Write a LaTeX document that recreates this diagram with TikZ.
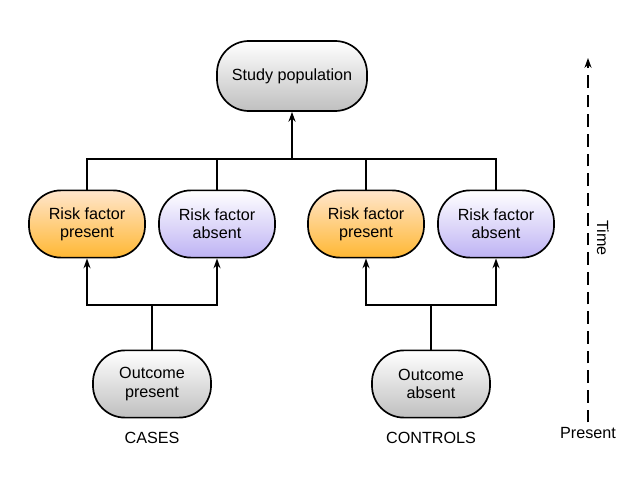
\documentclass[tikz,border=0pt]{standalone}
\usepackage{fontspec}
\setmainfont{Liberation Sans}
\usetikzlibrary{positioning,arrows.meta}
\begin{document}
\begin{tikzpicture}[
        x=0.025cm, y=-0.025cm,
        box/.style={
            rectangle,
            draw,
            line width=1.2pt,
            align=center,
            rounded corners=0.8cm,
            font=\fontsize{11.5}{13}\selectfont,
            inner sep=2pt
        },
        gray box/.style={box, top color=white, bottom color=black!25,
            minimum width=2.95cm, minimum height=1.68cm},
        orange box/.style={box, top color=orange!20, bottom color=orange!70!yellow!80,
            minimum width=2.9cm, minimum height=1.68cm},
        purple box/.style={box, top color=white, bottom color=violet!30!blue!30,
            minimum width=2.9cm, minimum height=1.68cm},
        line/.style={line width=1.6pt},
        arrow/.style={line, -{Stealth[length=7pt,width=5pt]}}
    ]
    \useasboundingbox (0,0) rectangle (638,478);

    % Study population
    \node[gray box, minimum width=3.75cm, minimum height=1.75cm] (study) at (292,76) {Study population};

    % Risk factor row
    \node[orange box] (rfp1) at (87,224) {Risk factor\\present};
    \node[purple box] (rfa1) at (217,224) {Risk factor\\absent};
    \node[orange box] (rfp2) at (366,224) {Risk factor\\present};
    \node[purple box] (rfa2) at (496,224) {Risk factor\\absent};

    % Outcome row
    \node[gray box] (outp) at (152,384) {Outcome\\present};
    \node[gray box] (outa) at (431,384) {Outcome\\absent};
    \node[font=\fontsize{11.5}{13}\selectfont] (cases) at (152,438) {CASES};
    \node[font=\fontsize{11.5}{13}\selectfont] (controls) at (431,438) {CONTROLS};

    % Connections to study population
    \coordinate (bar) at (292,159);
    \draw[line] (rfp1.north) |- (rfa2.north |- bar) -- (rfa2.north);
    \draw[line] (rfa1.north) -- (rfa1.north |- bar);
    \draw[line] (rfp2.north) -- (rfp2.north |- bar);
    \draw[arrow] (bar) -- (study.south);

    % Connections from outcomes
    \coordinate (split1) at (152,305);
    \coordinate (split2) at (431,305);
    \draw[line] (outp.north) -- (split1);
    \draw[arrow] (split1) -| (rfp1.south);
    \draw[arrow] (split1) -| (rfa1.south);
    \draw[line] (outa.north) -- (split2);
    \draw[arrow] (split2) -| (rfp2.south);
    \draw[arrow] (split2) -| (rfa2.south);

    % Time axis
    \node[font=\fontsize{11.5}{13}\selectfont] (present) at (588,433) {Present};
    \coordinate (top) at (588,58);
    \draw[line, dash pattern=on 9pt off 5pt, -{Stealth[length=7pt,width=5pt]}] (present.north) -- (top);
    \node[font=\fontsize{11.5}{13}\selectfont, rotate=-90] (time) at (603,238) {Time};
\end{tikzpicture}
\end{document}
